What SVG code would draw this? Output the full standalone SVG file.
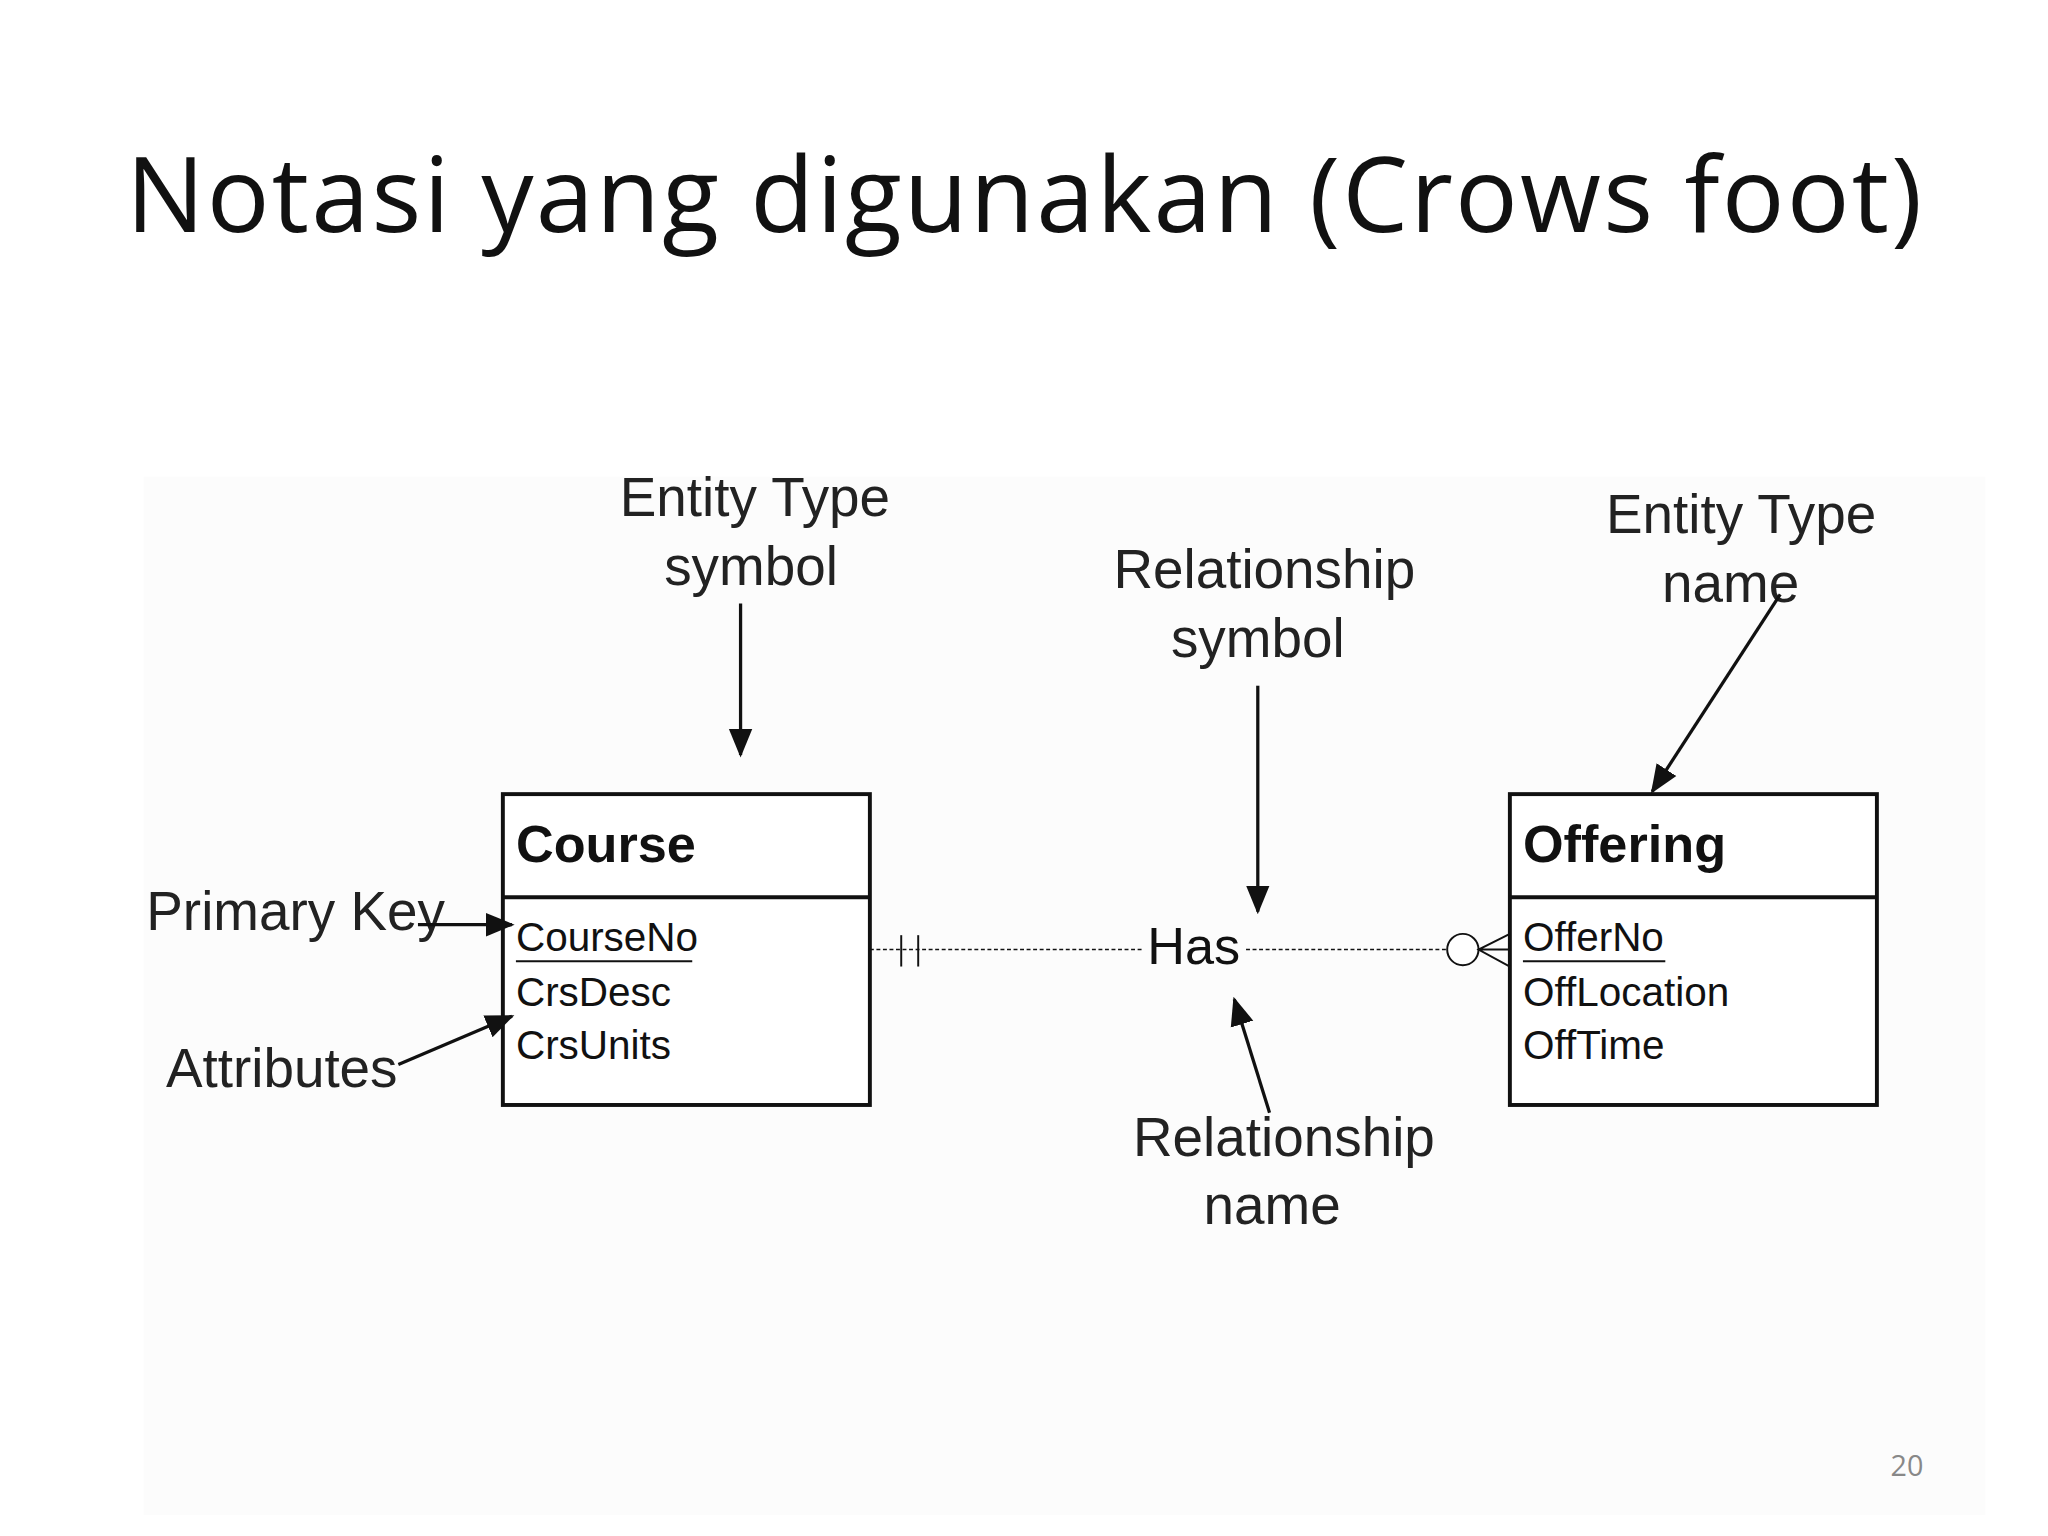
<svg xmlns="http://www.w3.org/2000/svg" width="2048" height="1536" viewBox="0 0 2048 1536">
<style>
.lbl{font-family:"Liberation Sans",Arial,sans-serif;font-size:42px;fill:#222;text-anchor:middle}
.lbs{font-family:"Liberation Sans",Arial,sans-serif;font-size:42px;fill:#222;text-anchor:start}
.hd{font-family:"Liberation Sans",Arial,sans-serif;font-size:40px;font-weight:bold;fill:#111}
.at{font-family:"Liberation Sans",Arial,sans-serif;font-size:31px;fill:#111}
.box{fill:#fff;stroke:#111;stroke-width:3}
.arr{stroke:#111;stroke-width:2.5;fill:none;marker-end:url(#ah)}
</style>
<defs><marker id="ah" markerWidth="22" markerHeight="22" refX="20" refY="11" orient="auto" markerUnits="userSpaceOnUse" viewBox="0 0 22 22"><path d="M0,2 L22,11 L0,20 z" fill="#111"/></marker></defs>
<rect width="2048" height="1536" fill="#fff"/>
<g transform="scale(1.30612)">
<rect x="110" y="365" width="1410" height="795" fill="#fcfcfc"/>
<text x="784" y="178" font-family="Open Sans,Liberation Sans,sans-serif" font-size="80" text-anchor="middle" textLength="1375" fill="#111">Notasi yang digunakan (Crows foot)</text>
<g id="course"><rect class="box" x="385" y="608" width="281" height="238"/><line x1="385" y1="687" x2="666" y2="687" stroke="#111" stroke-width="3"/>
<text class="hd" x="395" y="660">Course</text><text class="at" x="395" y="728">CourseNo</text><line x1="395" y1="736" x2="530" y2="736" stroke="#111" stroke-width="1.5"/><text class="at" x="395" y="770">CrsDesc</text><text class="at" x="395" y="811">CrsUnits</text></g>
<g id="offering"><rect class="box" x="1156" y="608" width="281" height="238"/><line x1="1156" y1="687" x2="1437" y2="687" stroke="#111" stroke-width="3"/>
<text class="hd" x="1166" y="660">Offering</text><text class="at" x="1166" y="728">OfferNo</text><line x1="1166" y1="736" x2="1275" y2="736" stroke="#111" stroke-width="1.5"/><text class="at" x="1166" y="770">OffLocation</text><text class="at" x="1166" y="811">OffTime</text></g>
<g id="has"><text x="914" y="738" font-family="Liberation Sans,Arial,sans-serif" font-size="40" text-anchor="middle" fill="#111">Has</text></g>
<g id="labels">
<text class="lbl" x="578" y="395">Entity Type</text><text class="lbl" x="575" y="448">symbol</text>
<text class="lbl" x="968" y="450">Relationship</text><text class="lbl" x="963" y="503">symbol</text>
<text class="lbl" x="1333" y="408">Entity Type</text><text class="lbl" x="1325" y="461">name</text>
<text class="lbl" x="983" y="885">Relationship</text><text class="lbl" x="974" y="937">name</text>
<text class="lbs" x="112" y="712">Primary Key</text>
<text class="lbs" x="127" y="832">Attributes</text>
<text x="1460" y="1130" font-family="Open Sans,sans-serif" font-size="22" fill="#888" text-anchor="middle">20</text>
</g>
<g id="connectors">
<line x1="666" y1="727" x2="874" y2="727" stroke="#111" stroke-width="1.2" stroke-dasharray="3,2"/>
<line x1="954" y1="727" x2="1108" y2="727" stroke="#111" stroke-width="1.2" stroke-dasharray="3,2"/>
<line x1="690" y1="716" x2="690" y2="740" stroke="#111" stroke-width="1.5"/><line x1="703" y1="716" x2="703" y2="740" stroke="#111" stroke-width="1.5"/>
<circle cx="1120" cy="727" r="12" fill="#fff" stroke="#111" stroke-width="1.5"/>
<path d="M1156,715 L1132,727 L1156,740 M1132,727 L1156,727" stroke="#111" stroke-width="1.5" fill="none"/>
<line class="arr" x1="567" y1="462" x2="567" y2="578"/>
<line class="arr" x1="963" y1="525" x2="963" y2="698"/>
<line class="arr" x1="1363" y1="455" x2="1265" y2="606"/>
<line class="arr" x1="320" y1="708" x2="392" y2="708"/>
<line class="arr" x1="305" y1="815" x2="392" y2="778"/>
<line class="arr" x1="972" y1="852" x2="945" y2="765"/>
</g>
</g>
</svg>
